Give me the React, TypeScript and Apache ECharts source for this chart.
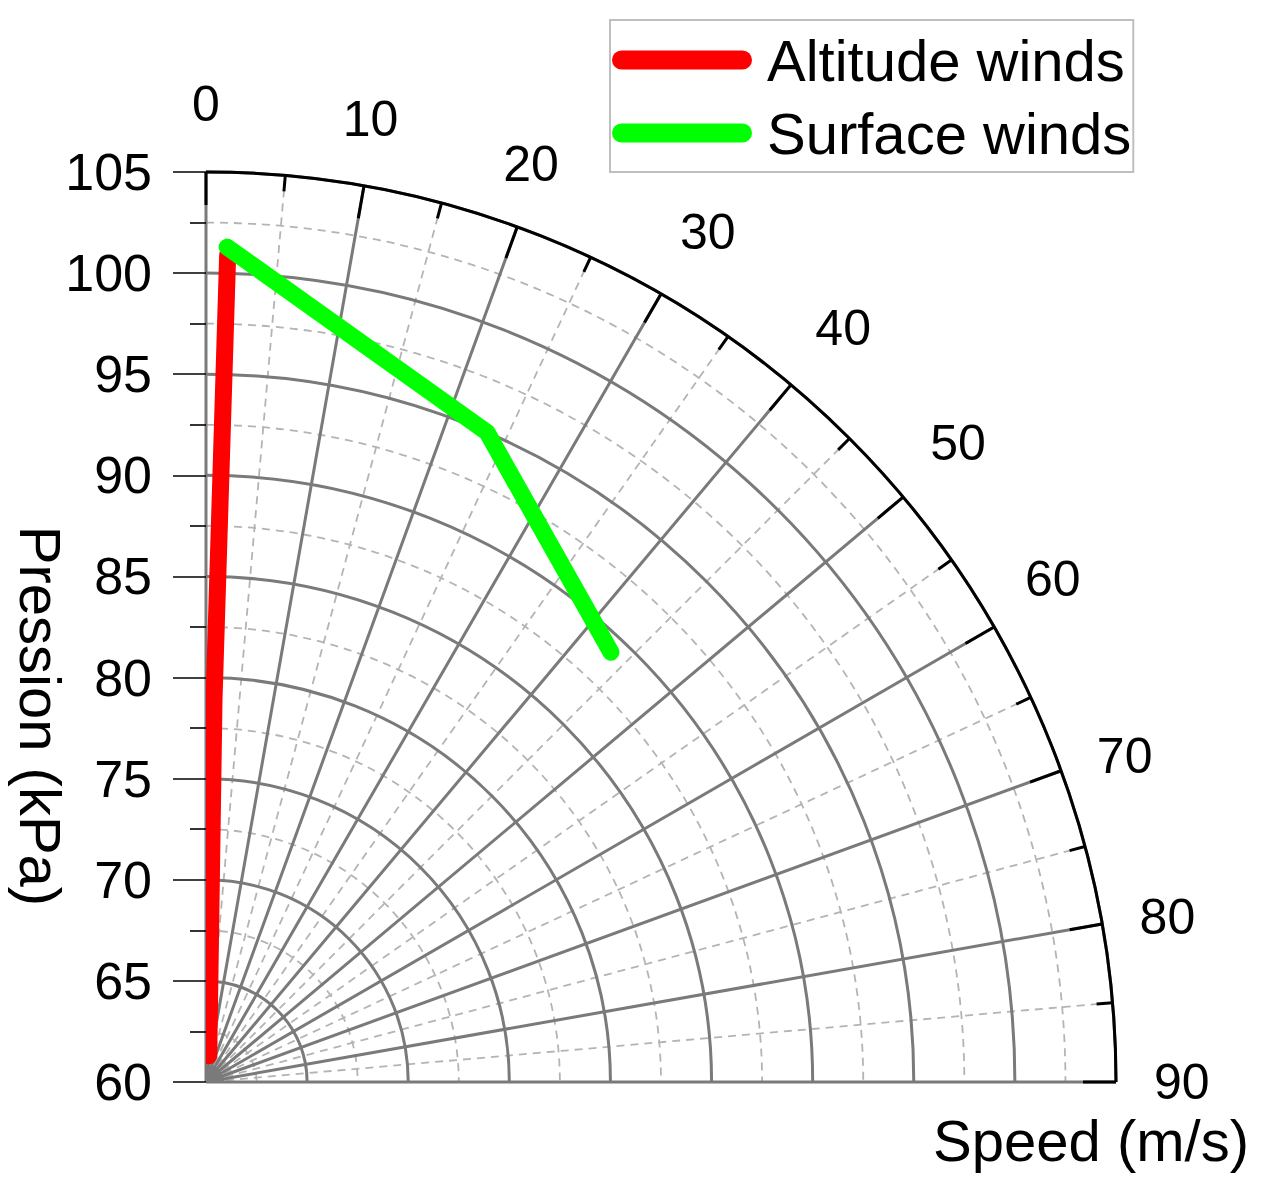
import React, { useEffect, useRef } from "react";
import * as echarts from "echarts";

// ---- data ----
const seriesNames = ["Altitude winds", "Surface winds"];
// [pressure (kPa), speed (m/s)]
const altitudePressure = [61.3, 78.9, 100.9];
const altitudeSpeed = [6, 1.2, 1.5];
const surfacePressure = [101.3, 95.0, 89.2];
const surfaceSpeed = [1.45, 23.4, 43.3];

const pressureMin = 60;
const pressureMax = 105;
const pressureStep = 5;
const pressureMinorStep = 2.5;
const speedMin = 0;
const speedMax = 90;
const speedStep = 10;

const radiusTitle = "Pression (kPa)";
const angleTitle = "Speed (m/s)";

const FONT = '"Liberation Sans", Arial, Helvetica, sans-serif';
const RED = "#ff0000";
const GREEN = "#00ff00";
const GRID = "#7a7a7a";
const DASH = "#b4b4b4";

// label fine placement (rich padding: top, right, bottom, left)
const angleLabelPad: Record<string, number[]> = {
  "0": [0, 0, 5, 0],
  "10": [0, 0, 4, 0],
  "20": [0, 0, 2, -27],
  "30": [0, 0, 4, 0],
  "40": [0, 0, 3, 0],
  "50": [0, 0, 5, -2],
  "60": [0, 0, 4, -2],
  "70": [0, 0, -23, 0],
  "80": [0, 0, 0, 0],
  "90": [0, 0, 0, 0],
};

export default function App() {
  const ref = useRef<HTMLDivElement>(null);

  useEffect(() => {
    if (!ref.current) return;
    const chart = echarts.init(ref.current, undefined, { renderer: "svg" });

    const altitudeData = altitudePressure.map((p, i) => [p, altitudeSpeed[i]]);
    const surfaceData = surfacePressure.map((p, i) => [p, surfaceSpeed[i]]);

    const polarBox = { center: [206, 1082], radius: 910 };
    const angleBase = {
      type: "value",
      min: speedMin,
      max: speedMax,
      interval: speedStep,
      startAngle: 90,
      endAngle: 0,
      clockwise: true,
    };
    const radiusBase = {
      type: "value",
      min: pressureMin,
      max: pressureMax,
    };
    const hidden = {
      axisLine: { show: false },
      axisTick: { show: false },
      axisLabel: { show: false },
      splitLine: { show: false },
    };

    const rich: Record<string, any> = {};
    Object.keys(angleLabelPad).forEach((k) => {
      rich["l" + k] = { fontSize: 50, fontFamily: FONT, color: "#000", padding: angleLabelPad[k] };
    });

    const option: any = {
      animation: false,
      backgroundColor: "#ffffff",
      polar: [polarBox, polarBox, polarBox],
      angleAxis: [
        {
          ...angleBase,
          ...hidden,
          polarIndex: 0,
          z: 0,
          minorTick: { show: false, splitNumber: 2 },
          minorSplitLine: { show: true, lineStyle: { color: DASH, width: 1.8, type: [8, 6] } },
        },
        {
          ...angleBase,
          ...hidden,
          polarIndex: 1,
          z: 1,
          splitLine: { show: true, lineStyle: { color: GRID, width: 3 } },
        },
        {
          ...angleBase,
          polarIndex: 2,
          z: 3,
          axisLine: { show: true, lineStyle: { color: "#000", width: 3 } },
          axisTick: { show: true, inside: true, length: 33, lineStyle: { color: "#000", width: 3 } },
          minorTick: { show: true, splitNumber: 2, length: 16, lineStyle: { color: "#000", width: 3 } },
          axisLabel: {
            show: true,
            margin: 38,
            fontSize: 50,
            color: "#000",
            fontFamily: FONT,
            formatter: (v: number) => `{l${v}|${v}}`,
            rich,
          },
          splitLine: { show: false },
        },
      ],
      radiusAxis: [
        {
          ...radiusBase,
          ...hidden,
          polarIndex: 0,
          interval: pressureMinorStep,
          z: 0,
          splitLine: { show: true, lineStyle: { color: DASH, width: 1.8, type: [8, 6] } },
        },
        {
          ...radiusBase,
          polarIndex: 1,
          interval: pressureStep,
          z: 1,
          axisLine: { show: false },
          axisTick: { show: true, length: 33, lineStyle: { color: "#000", width: 1.6 } },
          minorTick: { show: true, splitNumber: 2, length: 16, lineStyle: { color: "#000", width: 1.6 } },
          axisLabel: { show: true, margin: 54, fontSize: 52, color: "#000", fontFamily: FONT },
          splitLine: { show: true, lineStyle: { color: GRID, width: 3 } },
        },
        {
          ...radiusBase,
          ...hidden,
          polarIndex: 2,
          interval: pressureStep,
          z: 3,
        },
      ],
      legend: {
        orient: "vertical",
        left: 610,
        top: 20,
        padding: [11, 2, 10, 2],
        itemGap: 15,
        itemWidth: 140,
        itemHeight: 19,
        borderColor: "#bfbfbf",
        borderWidth: 2,
        backgroundColor: "#ffffff",
        icon: "path://M9.5,0 L130.5,0 A9.5,9.5 0 0 1 130.5,19 L9.5,19 A9.5,9.5 0 0 1 9.5,0 Z",
        itemStyle: { borderWidth: 0 },
        textStyle: { fontSize: 58, color: "#000", fontFamily: FONT, padding: [0, 0, 0, 10] },
        data: seriesNames,
      },
      series: [
        {
          type: "line",
          name: seriesNames[0],
          coordinateSystem: "polar",
          polarIndex: 1,
          data: altitudeData,
          symbol: "none",
          color: RED,
          itemStyle: { color: RED },
          lineStyle: { color: RED, width: 17, cap: "round", join: "round" },
          z: 10,
        },
        {
          type: "line",
          name: seriesNames[1],
          coordinateSystem: "polar",
          polarIndex: 1,
          data: surfaceData,
          symbol: "none",
          color: GREEN,
          itemStyle: { color: GREEN },
          lineStyle: { color: GREEN, width: 17, cap: "round", join: "round" },
          z: 11,
        },
      ],
      graphic: [
        {
          type: "text",
          x: 40,
          y: 716,
          rotation: -Math.PI / 2,
          style: {
            text: radiusTitle,
            fontSize: 58,
            fontFamily: FONT,
            fill: "#000",
            textAlign: "center",
            textVerticalAlign: "middle",
          },
        },
        {
          type: "text",
          x: 1091,
          y: 1140,
          style: {
            text: angleTitle,
            fontSize: 58,
            fontFamily: FONT,
            fill: "#000",
            textAlign: "center",
            textVerticalAlign: "middle",
          },
        },
      ],
    };

    chart.setOption(option);
    return () => chart.dispose();
  }, []);

  return (
    <div
      ref={ref}
      style={{ position: "absolute", left: 0, top: 0, width: 1284, height: 1186, background: "#fff" }}
    />
  );
}
